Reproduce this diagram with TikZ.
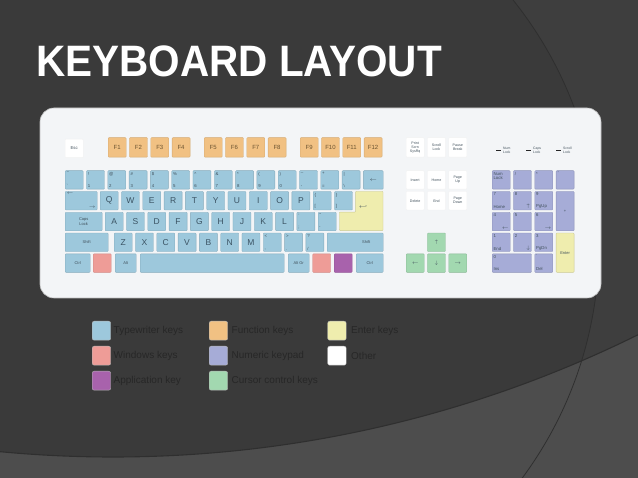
\documentclass[tikz,border=0pt]{standalone}
\usepackage{fontspec}
\setmainfont{Liberation Sans}
\newfontfamily\titlefont[FakeStretch=0.92]{Liberation Sans}
\usetikzlibrary{calc}
\definecolor{bgdark}{HTML}{3A3A3A}
\definecolor{bgright}{HTML}{3E3E3E}
\definecolor{bglow}{HTML}{4D4D4D}
\definecolor{arcline}{HTML}{2F2F2F}
\definecolor{panel}{HTML}{F3F5F7}
\definecolor{twc}{HTML}{9DC8DC}
\definecolor{fnc}{HTML}{F1C183}
\definecolor{fntext}{HTML}{6B5330}
\definecolor{entc}{HTML}{EFEDAE}
\definecolor{winc}{HTML}{EE9C97}
\definecolor{numc}{HTML}{A6ACD7}
\definecolor{appc}{HTML}{A862AC}
\definecolor{curc}{HTML}{A2D8B0}
\definecolor{lblc}{HTML}{3F4F5A}
\definecolor{lettc}{HTML}{3B5363}
\definecolor{legtext}{HTML}{272727}
\tikzset{
  kbase/.style={rectangle, rounded corners=0.8pt, anchor=north west, inner sep=0pt, line width=0.35pt, text=lblc, font=\fontsize{4}{4.6}\selectfont, align=center},
  std/.style={minimum width=18pt, minimum height=18.5pt},
  twk/.style={kbase, fill=twc, draw=twc!85!black},
  fnk/.style={kbase, fill=fnc, draw=fnc!88!black, text=fntext, font=\fontsize{6}{6}\selectfont},
  entk/.style={fill=entc, draw=entc!85!black, line width=0.35pt, rounded corners=0.8pt},
  wink/.style={kbase, fill=winc, draw=winc!88!black},
  numk/.style={kbase, fill=numc, draw=numc!85!black},
  appk/.style={kbase, fill=appc, draw=appc!88!black},
  curk/.style={kbase, fill=curc, draw=curc!85!black},
  othk/.style={kbase, fill=white, draw=black!5, font=\fontsize{3.6}{4}\selectfont},
  letter/.style={font=\fontsize{8.5}{8.5}\selectfont, text=lettc},
  kl/.style={inner sep=1.4pt, font=\fontsize{4.3}{4.6}\selectfont, text=lblc, align=left},
  tl/.style={label={[kl, anchor=north west]north west:{#1}}},
  bl/.style={label={[kl, anchor=south west]south west:{#1}}},
  br/.style={label={[kl, anchor=south east]south east:{#1}}},
  ledbox/.style={rectangle, fill=black!85, minimum width=5pt, minimum height=1.8pt, inner sep=0pt},
  ledtxt/.style={anchor=west, inner sep=0pt, font=\fontsize{3.4}{3.8}\selectfont, text=lblc, align=left},
  sw/.style={rectangle, rounded corners=2pt, anchor=north west, minimum width=18.5pt, minimum height=19pt, inner sep=0pt, draw=black!30, line width=0.4pt},
  legt/.style={anchor=west, inner sep=0pt, text=legtext, font=\fontsize{10}{11}\selectfont},
}
\begin{document}
\begin{tikzpicture}[x=1pt,y=-1pt]
\useasboundingbox (0,0) rectangle (638,478);
% background
\begin{scope}
  \clip (0,0) rectangle (638,478);
  \fill[bgright] (0,0) rectangle (638,478);
  \fill[bgdark] (207,245) circle[radius=392pt];
  \fill[bglow, even odd rule] (-10,-10) rectangle (648,488) (113,-729) circle[radius=1186pt];
  \draw[arcline, line width=0.8pt] (207,245) circle[radius=392pt];
  \draw[arcline, line width=1.1pt] (113,-729) circle[radius=1186pt];
\end{scope}
% title
\node[anchor=base west, text=white, inner sep=0pt, font=\titlefont\bfseries\fontsize{44}{44}\selectfont] (title) at (36,77) {KEYBOARD LAYOUT};
% keyboard panel
\draw[fill=panel, draw=black!25, line width=0.6pt, rounded corners=14pt] (40,108) rectangle (601,298);
% row 0
\node[othk, std, font=\fontsize{4.3}{4.6}\selectfont] (esc) at (65,139) {Esc};
\foreach \i/\x in {1/108,2/129.3,3/150.6,4/171.9,5/204,6/225.3,7/246.6,8/267.9,9/300,10/321.3,11/342.6,12/363.9}
  \node[fnk, std, minimum height=19.5pt] (f\i) at (\x,137.5) {F\i};
% row 1
\foreach \i/\ta/\tb in {0/\textasciitilde/\textasciigrave, 1/!/1, 2/@/2, 3/\#/3, 4/\$/4, 5/\%/5, 6/\textasciicircum/6, 7/\&/7, 8/*/8, 9/(/9, 10/)/0, 11/\_/-, 12/+/=, 13/|/\textbackslash}
  \node[twk, std, tl=\ta, bl=\tb] (r1k\i) at ({65+21.3*\i},170.5) {};
\node[twk, minimum width=19.8pt, minimum height=18.5pt, font=\fontsize{6}{6}\selectfont] (bksp) at (363.2,170.5) {$\leftarrow$};
% row 2
\node[twk, minimum width=32pt, minimum height=18.5pt, tl={$\leftarrow$}, br={$\rightarrow$}] (tab) at (65,191.3) {};
\foreach \l [count=\i from 0] in {Q,W,E,R,T,Y,U,I,O,P}
  \node[twk, std, letter] (q\l) at ({100+21.3*\i},191.3) {\l};
\node[twk, std, tl={\{}, bl={[}] (qlb) at (313,191.3) {};
\node[twk, std, tl={\}}, bl={]}] (qrb) at (334.3,191.3) {};
\draw[entk] (355.6,191.3) -- (383,191.3) -- (383,230.6) -- (339.3,230.6) -- (339.3,212.1) -- (355.6,212.1) -- cycle;
\node[inner sep=0pt, text=lblc, font=\fontsize{6}{6}\selectfont] (entlbl) at (363,207) {$\hookleftarrow$};
% row 3
\node[twk, minimum width=37pt, minimum height=18.5pt] (caps) at (65,212.1) {Caps\\Lock};
\foreach \l [count=\i from 0] in {A,S,D,F,G,H,J,K,L}
  \node[twk, std, letter] (a\l) at ({105+21.3*\i},212.1) {\l};
\node[twk, std, tl={:}, bl={;}] (asc) at (296.7,212.1) {};
\node[twk, std, tl={"}, bl={\textquotesingle}] (aqt) at (318,212.1) {};
% row 4
\node[twk, minimum width=43pt, minimum height=18.5pt] (lshift) at (65,232.9) {Shift};
\foreach \l [count=\i from 0] in {Z,X,C,V,B,N,M}
  \node[twk, std, letter] (z\l) at ({114+21.3*\i},232.9) {\l};
\node[twk, std, tl={<}, bl={,}] (zcm) at (263.1,232.9) {};
\node[twk, std, tl={>}, bl={.}] (zdt) at (284.4,232.9) {};
\node[twk, std, tl={?}, bl={/}] (zsl) at (305.7,232.9) {};
\node[twk, minimum width=56pt, minimum height=18.5pt] (rshift) at (327,232.9) {\hspace*{22pt}Shift};
% row 5
\node[twk, minimum width=25pt, minimum height=18.5pt] (lctrl) at (65,253.7) {Ctrl};
\node[wink, std] (lwin) at (93,253.7) {};
\node[twk, minimum width=21pt, minimum height=18.5pt] (lalt) at (115,253.7) {Alt};
\node[twk, minimum width=144pt, minimum height=18.5pt] (space) at (140,253.7) {};
\node[twk, minimum width=21pt, minimum height=18.5pt] (altgr) at (288,253.7) {Alt Gr};
\node[wink, std] (rwin) at (312.5,253.7) {};
\node[appk, std] (menu) at (334,253.7) {};
\node[twk, minimum width=27pt, minimum height=18.5pt] (rctrl) at (356,253.7) {Ctrl};
% editing block
\node[othk, std, minimum height=19.5pt] (prt) at (406,137.5) {Print\\Scrn\\SysRq};
\node[othk, std, minimum height=19.5pt] (scr) at (427.3,137.5) {Scroll\\Lock};
\node[othk, std, minimum height=19.5pt] (pau) at (448.6,137.5) {Pause\\Break};
\node[othk, std] (ins) at (406,170.5) {Insert};
\node[othk, std] (home) at (427.3,170.5) {Home};
\node[othk, std] (pgup) at (448.6,170.5) {Page\\Up};
\node[othk, std] (del) at (406,191.3) {Delete};
\node[othk, std] (endk) at (427.3,191.3) {End};
\node[othk, std] (pgdn) at (448.6,191.3) {Page\\Down};
% cursor keys
\node[curk, std, font=\fontsize{5}{5}\selectfont] (up) at (427.3,232.9) {$\uparrow$};
\node[curk, std, font=\fontsize{5}{5}\selectfont] (left) at (406,253.7) {$\leftarrow$};
\node[curk, std, font=\fontsize{5}{5}\selectfont] (down) at (427.3,253.7) {$\downarrow$};
\node[curk, std, font=\fontsize{5}{5}\selectfont] (right) at (448.6,253.7) {$\rightarrow$};
% LEDs
\node[ledbox] (led1) at (498.5,150.5) {};
\node[ledtxt] (ledt1) at (503,150.5) {Num\\Lock};
\node[ledbox] (led2) at (528.5,150.5) {};
\node[ledtxt] (ledt2) at (533,150.5) {Caps\\Lock};
\node[ledbox] (led3) at (558.5,150.5) {};
\node[ledtxt] (ledt3) at (563,150.5) {Scroll\\Lock};
% numeric keypad
\node[numk, std, tl={Num\\Lock}] (numlock) at (492,170.5) {};
\node[numk, std, tl={/}] (ndiv) at (513.3,170.5) {};
\node[numk, std, tl={*}] (nmul) at (534.6,170.5) {};
\node[numk, std, tl={-}] (nsub) at (555.9,170.5) {};
\node[numk, std, tl={7}, bl={Home}] (n7) at (492,191.3) {};
\node[numk, std, tl={8}, br={$\uparrow$}] (n8) at (513.3,191.3) {};
\node[numk, std, tl={9}, bl={PgUp}] (n9) at (534.6,191.3) {};
\node[numk, minimum width=18pt, minimum height=39.3pt] (nadd) at (555.9,191.3) {+};
\node[numk, std, tl={4}, br={$\leftarrow$}] (n4) at (492,212.1) {};
\node[numk, std, tl={5}] (n5) at (513.3,212.1) {};
\node[numk, std, tl={6}, br={$\rightarrow$}] (n6) at (534.6,212.1) {};
\node[numk, std, tl={1}, bl={End}] (n1) at (492,232.9) {};
\node[numk, std, tl={2}, br={$\downarrow$}] (n2) at (513.3,232.9) {};
\node[numk, std, tl={3}, bl={PgDn}] (n3) at (534.6,232.9) {};
\node[kbase, fill=entc, draw=entc!85!black, minimum width=18pt, minimum height=39.3pt] (nent) at (555.9,232.9) {Enter};
\node[numk, minimum width=39.3pt, minimum height=18.5pt, tl={0}, bl={Ins}] (n0) at (492,253.7) {};
\node[numk, std, tl={.}, bl={Del}] (ndel) at (534.6,253.7) {};
% legend
\node[sw, fill=twc] (sw1) at (92,321) {};
\node[legt] (lt1) at (113.5,330.5) {Typewriter keys};
\node[sw, fill=fnc] (sw2) at (209,321) {};
\node[legt] (lt2) at (231.5,330.5) {Function keys};
\node[sw, fill=entc] (sw3) at (327.5,321) {};
\node[legt] (lt3) at (351,330.5) {Enter keys};
\node[sw, fill=winc] (sw4) at (92,346) {};
\node[legt] (lt4) at (113.5,355.5) {Windows keys};
\node[sw, fill=numc] (sw5) at (209,346) {};
\node[legt] (lt5) at (231.5,355.5) {Numeric keypad};
\node[sw, fill=white] (sw6) at (327.5,346) {};
\node[legt] (lt6) at (351,355.5) {Other};
\node[sw, fill=appc] (sw7) at (92,371) {};
\node[legt] (lt7) at (113.5,380.5) {Application key};
\node[sw, fill=curc] (sw8) at (209,371) {};
\node[legt] (lt8) at (231.5,380.5) {Cursor control keys};
\end{tikzpicture}
\end{document}
